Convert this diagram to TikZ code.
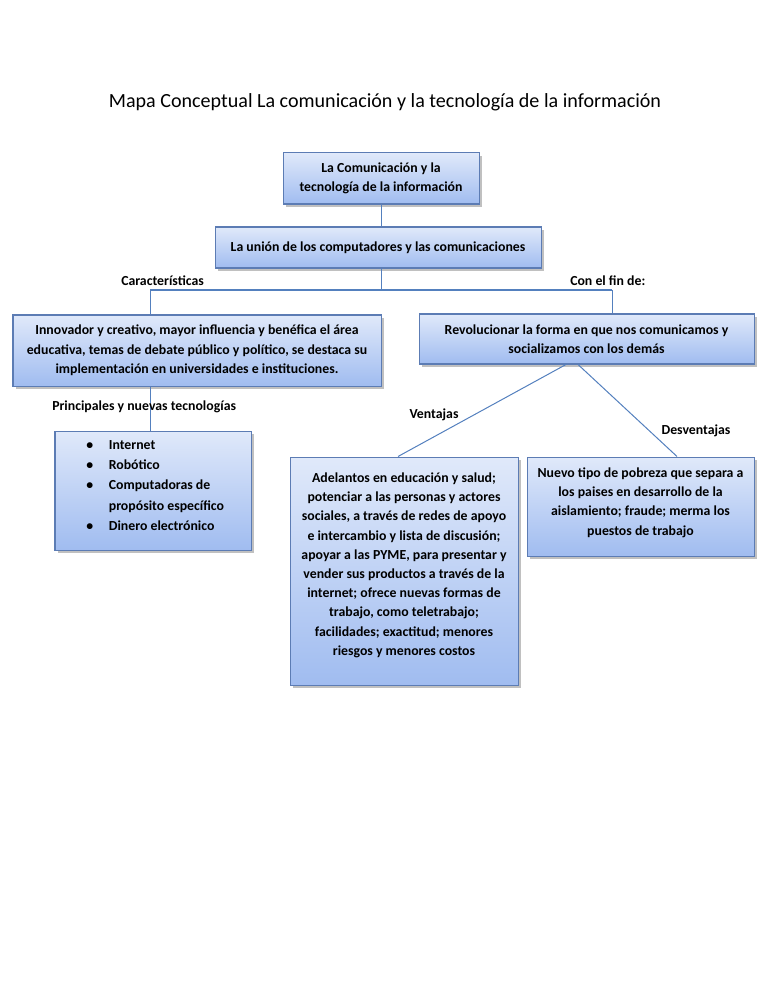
\documentclass[tikz,border=0pt]{standalone}
\usepackage{fontspec}
\setmainfont{Carlito}
\usepackage{xcolor}
\definecolor{Frame}{RGB}{92,124,180}
\definecolor{Link}{RGB}{84,128,190}
\definecolor{LightBlue}{RGB}{224,233,250}
\definecolor{MidBlue}{RGB}{160,188,240}
\usetikzlibrary{shadows,calc}
\newcommand{\pix}{0.796875pt}

\tikzset{
	concept/.style={draw=Frame, line width=0.8pt, top color=LightBlue, bottom color=MidBlue,
		drop shadow={shadow xshift=2pt, shadow yshift=-2pt, fill=black!55, opacity=0.45},
		align=center, inner sep=0pt, font=\fontsize{11}{15.4}\selectfont\bfseries},
	boxtext/.style={align=center, inner sep=0pt, font=\fontsize{11}{15.3}\selectfont\bfseries},
	tag/.style={inner sep=0pt, font=\fontsize{11}{13}\selectfont\bfseries},
	link/.style={draw=Link, line width=0.8pt}
}

\begin{document}
\begin{tikzpicture}[x=\pix, y=-\pix]
		\useasboundingbox (0,0) rectangle (768,994);
		
		% Title
		\node[font=\fontsize{16}{19}\selectfont] (Title) at (385,102) {Mapa Conceptual La comunicación y la tecnología de la información};
		
		% Boxes
		\node[concept, minimum width=196*\pix, minimum height=51*\pix] (Tema) at (381,178.5) {La Comunicación y la\\tecnología de la información};
		\node[concept, minimum width=326*\pix, minimum height=41*\pix] (Union) at (378,247.5) {La unión de los computadores y las comunicaciones};
		
		\node[concept, minimum width=368*\pix, minimum height=71*\pix] (Caract) at (197,350.5) {Innovador y creativo, mayor influencia y benéfica el área\\educativa, temas de debate público y político, se destaca su\\implementación en universidades e instituciones.};
		\node[concept, minimum width=335*\pix, minimum height=50*\pix] (FinDe) at (586.5,339) {Revolucionar la forma en que nos comunicamos y\\socializamos con los demás};
		
		\node[concept, minimum width=196*\pix, minimum height=119*\pix] (Tecno) at (153,490.5) {};
		\node[concept, minimum width=228*\pix, minimum height=228*\pix] (Venta) at (404,571) {};
		\node[concept, minimum width=227*\pix, minimum height=99*\pix] (Desve) at (640.5,506.5) {};
		
		% Text
		\node[boxtext, align=left, anchor=north west, font=\fontsize{11}{16.2}\selectfont\bfseries] (TecnoText) at (86,440) {\makebox[18pt][l]{\textbullet}Internet\\\makebox[18pt][l]{\textbullet}Robótico\\\makebox[18pt][l]{\textbullet}Computadoras de\\\makebox[18pt][l]{}propósito específico\\\makebox[18pt][l]{\textbullet}Dinero electrónico};
		
		\node[boxtext, anchor=north] (VentaText) at ($(Venta.north)+(0,16)$) {Adelantos en educación y salud;\\potenciar a las personas y actores\\sociales, a través de redes de apoyo\\e intercambio y lista de discusión;\\apoyar a las PYME, para presentar y\\vender sus productos a través de la\\internet; ofrece nuevas formas de\\trabajo, como teletrabajo;\\facilidades; exactitud; menores\\riesgos y menores costos};
		
		\node[boxtext, anchor=north] (DesveText) at ($(Desve.north)+(0,11)$) {Nuevo tipo de pobreza que separa a\\los paises en desarrollo de la\\aislamiento; fraude; merma los\\puestos de trabajo};
		
		% Flows
		\coordinate (Split) at (381,290);
		\coordinate (SplitL) at (150,290);
		\coordinate (SplitR) at (612,290);
		
		\draw[link] (Tema.south) -- (Tema.south |- Union.north);
		\draw[link] (Split |- Union.south) -- (Split);
		\draw[link] (SplitL) -- (SplitR);
		\draw[link] (SplitL) -- (SplitL |- Caract.north);
		\draw[link] (SplitR) -- (SplitR |- FinDe.north);
		\draw[link] (SplitL |- Caract.south) -- (SplitL |- Tecno.north);
		\draw[link] ($(FinDe.south)+(-20.5,0)$) -- ($(Venta.north)+(-6,0)$);
		\draw[link] ($(FinDe.south)+(-8.5,0)$) -- ($(Desve.north)+(36.5,0)$);
		
		% Labels
		\node[tag, anchor=west] (TagCaract) at (121,281) {Características};
		\node[tag, anchor=west] (TagFinDe) at (570,281) {Con el fin de:};
		\node[tag, anchor=west] (TagTecno) at (52,407) {Principales y nuevas tecnologías};
		\node[tag] (TagVenta) at (434,415) {Ventajas};
		\node[tag] (TagDesve) at (696,431) {Desventajas};
		
	\end{tikzpicture}
\end{document}
